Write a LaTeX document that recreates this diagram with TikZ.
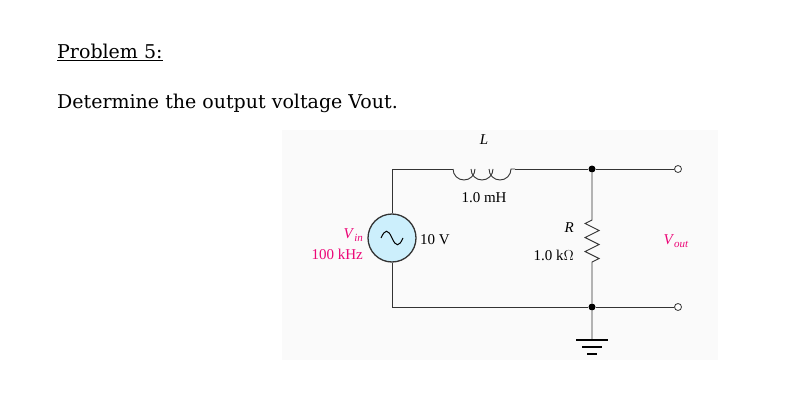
\documentclass[tikz,border=0pt]{standalone}
\usepackage{fontspec}
\setmainfont{Liberation Serif}
\newfontfamily\hdr{DejaVu Serif}
\usetikzlibrary{calc}
\begin{document}
\begin{tikzpicture}[x=1pt,y=-1pt,
  w/.style={line width=0.9pt,black!80},
  dot/.style={circle,fill=black,inner sep=0,minimum size=7pt},
  term/.style={circle,draw=black!80,fill=white,line width=0.8pt,inner sep=0,minimum size=7pt},
  lab/.style={font=\fontsize{15}{15}\selectfont,inner sep=0},
  pink/.style={text=magenta!80!red}]
\useasboundingbox (0,0) rectangle (799,401);
\fill[black!2] (282,130) rectangle (718,360);
\node[anchor=west,inner sep=0] (t1) at (57,52) {\hdr\fontsize{19}{19}\selectfont\underline{Problem 5:}};
\node[anchor=west,inner sep=0] (t2) at (57,103) {\hdr\fontsize{19}{19}\selectfont Determine the output voltage Vout.};
% nodes
\coordinate (tl) at (392,169);
\coordinate (bl) at (392,307);
\node[circle,draw=black!80,line width=1.3pt,fill=cyan!20,minimum size=48pt,inner sep=0] (src) at (392,238) {};
\draw[line width=1pt] ($(src)+(-11,0)$) ..controls +(4,-9) and +(-4,-9).. ($(src)+(0,0)$) ..controls +(4,9) and +(-4,9).. ($(src)+(11,0)$);
\coordinate (la) at (453,169);
\coordinate (lb) at (515,169);
\node[dot] (jt) at (592,169) {};
\node[dot] (jb) at (592,307) {};
\node[term] (ot) at (678,169) {};
\node[term] (ob) at (678,307) {};
\coordinate (ra) at (592,220);
\coordinate (rb) at (592,262);
\coordinate (g) at (592,340);
% wires
\draw[w] (src.north) -- (tl) -- (la);
\draw[w] (la) arc[start angle=180,end angle=0,radius=11] ++(-4,0) arc[start angle=180,end angle=0,radius=11] ++(-4,0) arc[start angle=180,end angle=0,radius=11] -- (lb);
\draw[w] (lb) -- (jt) -- (ot);
\draw[w] (src.south) -- (bl) -- (jb) -- (ob);
\draw[w] (jt) -- (ra) -- ++(-7,3.5) -- ++(14,7) -- ++(-14,7) -- ++(14,7) -- ++(-14,7) -- ++(14,7) -- (rb) -- (jb) -- (g);
\draw[line width=2.5pt] (576,340) -- (608,340);
\draw[line width=2.5pt] (582,347) -- (602,347);
\draw[line width=2.5pt] (587,354) -- (597,354);
% labels
\node[lab] (lL) at (484,140) {\textit{L}};
\node[lab] (lLv) at (484,198) {1.0 mH};
\node[lab,anchor=east,pink] (lV) at (363,235) {\textit{V}\raisebox{-3pt}{\fontsize{11}{11}\selectfont\textit{in}}};
\node[lab,anchor=east,pink] (lf) at (363,254) {100 kHz};
\node[lab,anchor=west] (l10) at (420,240) {10 V};
\node[lab,anchor=east] (lR) at (574,228) {\textit{R}};
\node[lab,anchor=east] (lRv) at (574,255) {1.0 k$\Omega$};
\node[lab,pink] (lo) at (676,241) {\textit{V}\raisebox{-3pt}{\fontsize{11}{11}\selectfont\textit{out}}};
\end{tikzpicture}
\end{document}
